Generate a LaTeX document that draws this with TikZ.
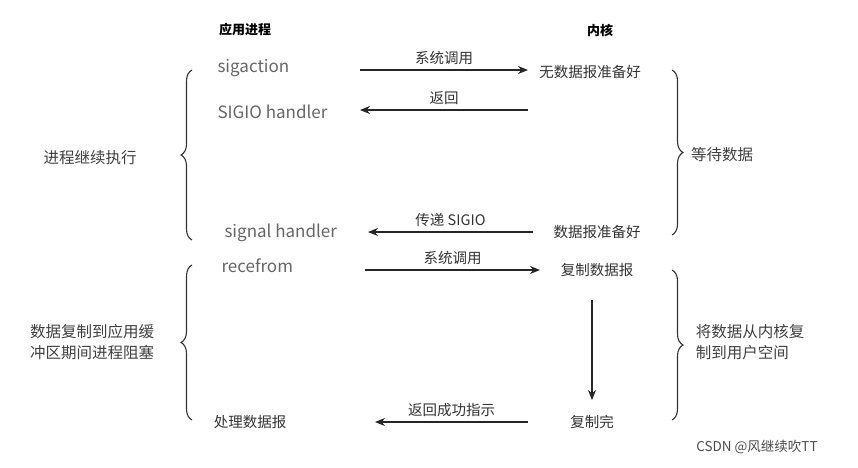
\documentclass[tikz,border=0pt]{standalone}
\usepackage{fontspec}
\setmainfont{Noto Sans CJK SC}
\usetikzlibrary{decorations.pathreplacing,arrows.meta}
\begin{document}
\begin{tikzpicture}[x=1pt,y=-1pt,
  lbl/.style={font=\fontsize{14.5}{19}\selectfont,text=black!80},
  side/.style={font=\fontsize{15.5}{21}\selectfont,text=black!75},
  proc/.style={font=\fontsize{17}{20}\selectfont,text=black!60,anchor=west},
  hd/.style={font=\fontsize{13}{16}\selectfont\bfseries},
  arr/.style={-{Stealth[length=10pt,width=8pt]},line width=1.4pt,black!85},
  br/.style={decorate,decoration={brace,amplitude=11pt},line width=1.1pt,black!80}]
\useasboundingbox[fill=white] (0,0) rectangle (858,467);
\node[hd] (h1) at (245,30) {应用进程};
\node[hd] (h2) at (600,30) {内核};
\node[proc] (p1) at (214,68) {sigaction};
\node[proc] (p2) at (214,112) {SIGIO handler};
\node[proc] (p3) at (221,233) {signal handler};
\node[proc] (p4) at (218,266) {recefrom};
\node[lbl] (p5) at (250,422) {处理数据报};
\node[lbl] (k1) at (590,72) {无数据报准备好};
\node[lbl] (k2) at (597,232) {数据报准备好};
\node[lbl] (k3) at (597,270) {复制数据报};
\node[lbl] (k4) at (592,422) {复制完};
\coordinate (a1) at (360,70); \coordinate (b1) at (528,70);
\draw[arr] (a1) -- node[lbl,above=1pt] {系统调用} (b1);
\coordinate (a2) at (528,110); \coordinate (b2) at (360,110);
\draw[arr] (a2) -- node[lbl,above=1pt] {返回} (b2);
\coordinate (a3) at (533,232); \coordinate (b3) at (368,232);
\draw[arr] (a3) -- node[lbl,above=1pt] {传递 SIGIO} (b3);
\coordinate (a4) at (365,270); \coordinate (b4) at (540,270);
\draw[arr] (a4) -- node[lbl,above=1pt] {系统调用} (b4);
\coordinate (a5) at (528,422); \coordinate (b5) at (375,422);
\draw[arr] (a5) -- node[lbl,above=1pt] {返回成功指示} (b5);
\coordinate (d0) at (592,300); \coordinate (d1) at (592,400);
\draw[arr] (d0) -- (d1);
\draw[br] (192,240) -- (192,70);
\node[side] (l1) at (90,158) {进程继续执行};
\draw[br] (192,420) -- (192,265);
\node[side,align=left] (l2) at (92,342) {数据复制到应用缓\\冲区期间进程阻塞};
\draw[br] (672,70) -- (672,235);
\node[side] (r1) at (722,155) {等待数据};
\draw[br] (672,270) -- (672,420);
\node[side,align=left] (r2) at (750,342) {将数据从内核复\\制到用户空间};
\node[font=\fontsize{13.5}{16}\selectfont,text=black!70] (w) at (757,447) {CSDN @风继续吹TT};
\end{tikzpicture}
\end{document}
